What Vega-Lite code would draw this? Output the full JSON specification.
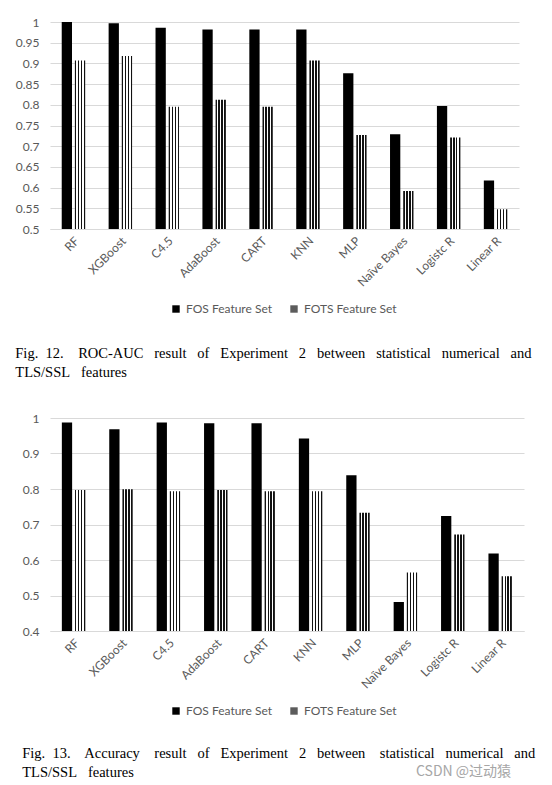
{
  "$schema": "https://vega.github.io/schema/vega-lite/v6.json",
  "background": "white",
  "padding": {"left": 15, "top": 16, "right": 10, "bottom": 5},
  "title": {
    "text": "CSDN @过动猿",
    "orient": "bottom",
    "anchor": "end",
    "font": "Noto Sans CJK SC",
    "fontSize": 14,
    "fontWeight": "normal",
    "color": "#a6a6a6",
    "offset": -15,
    "dx": -25
  },
  "datasets": {
    "auc": [
      {"model": "RF", "set": "FOS Feature Set", "value": 1.0},
      {"model": "RF", "set": "FOTS Feature Set", "value": 0.907},
      {"model": "XGBoost", "set": "FOS Feature Set", "value": 0.997},
      {"model": "XGBoost", "set": "FOTS Feature Set", "value": 0.918},
      {"model": "C4.5", "set": "FOS Feature Set", "value": 0.986},
      {"model": "C4.5", "set": "FOTS Feature Set", "value": 0.795},
      {"model": "AdaBoost", "set": "FOS Feature Set", "value": 0.982},
      {"model": "AdaBoost", "set": "FOTS Feature Set", "value": 0.812},
      {"model": "CART", "set": "FOS Feature Set", "value": 0.982},
      {"model": "CART", "set": "FOTS Feature Set", "value": 0.795},
      {"model": "KNN", "set": "FOS Feature Set", "value": 0.982},
      {"model": "KNN", "set": "FOTS Feature Set", "value": 0.907},
      {"model": "MLP", "set": "FOS Feature Set", "value": 0.876},
      {"model": "MLP", "set": "FOTS Feature Set", "value": 0.727},
      {"model": "Naïve Bayes", "set": "FOS Feature Set", "value": 0.729},
      {"model": "Naïve Bayes", "set": "FOTS Feature Set", "value": 0.592},
      {"model": "Logistc R", "set": "FOS Feature Set", "value": 0.797},
      {"model": "Logistc R", "set": "FOTS Feature Set", "value": 0.721},
      {"model": "Linear R", "set": "FOS Feature Set", "value": 0.617},
      {"model": "Linear R", "set": "FOTS Feature Set", "value": 0.548}
    ],
    "acc": [
      {"model": "RF", "set": "FOS Feature Set", "value": 0.987},
      {"model": "RF", "set": "FOTS Feature Set", "value": 0.797},
      {"model": "XGBoost", "set": "FOS Feature Set", "value": 0.968},
      {"model": "XGBoost", "set": "FOTS Feature Set", "value": 0.799},
      {"model": "C4.5", "set": "FOS Feature Set", "value": 0.987},
      {"model": "C4.5", "set": "FOTS Feature Set", "value": 0.794},
      {"model": "AdaBoost", "set": "FOS Feature Set", "value": 0.985},
      {"model": "AdaBoost", "set": "FOTS Feature Set", "value": 0.797},
      {"model": "CART", "set": "FOS Feature Set", "value": 0.985},
      {"model": "CART", "set": "FOTS Feature Set", "value": 0.794},
      {"model": "KNN", "set": "FOS Feature Set", "value": 0.942},
      {"model": "KNN", "set": "FOTS Feature Set", "value": 0.794},
      {"model": "MLP", "set": "FOS Feature Set", "value": 0.839},
      {"model": "MLP", "set": "FOTS Feature Set", "value": 0.733},
      {"model": "Naïve Bayes", "set": "FOS Feature Set", "value": 0.482},
      {"model": "Naïve Bayes", "set": "FOTS Feature Set", "value": 0.565},
      {"model": "Logistc R", "set": "FOS Feature Set", "value": 0.724},
      {"model": "Logistc R", "set": "FOTS Feature Set", "value": 0.672},
      {"model": "Linear R", "set": "FOS Feature Set", "value": 0.618},
      {"model": "Linear R", "set": "FOTS Feature Set", "value": 0.554}
    ]
  },
  "spacing": 32,
  "vconcat": [
    {
      "data": {"name": "auc"},
      "width": 469,
      "height": 207,
      "title": {
        "text": ["Fig.\u00a0 12.\u00a0\u00a0\u00a0 ROC-AUC\u00a0\u00a0 result\u00a0\u00a0 of\u00a0\u00a0 Experiment\u00a0\u00a0 2\u00a0\u00a0 between\u00a0\u00a0 statistical\u00a0\u00a0 numerical\u00a0\u00a0 and", "TLS/SSL\u00a0\u00a0 features"],
        "orient": "bottom",
        "anchor": "start",
        "offset": 32
      },
      "mark": {"type": "bar", "clip": true},
      "encoding": {
        "x": {
          "field": "model", "type": "nominal", "sort": null,
          "scale": {"paddingInner": 0.5, "paddingOuter": 0.25},
          "axis": {"title": null}
        },
        "xOffset": {"field": "set", "type": "nominal", "sort": null, "scale": {"paddingInner": 0.22}},
        "y": {
          "field": "value", "type": "quantitative",
          "scale": {"domain": [0.5, 1], "zero": false, "nice": false},
          "axis": {"title": null, "values": [0.5, 0.55, 0.6, 0.65, 0.7, 0.75, 0.8, 0.85, 0.9, 0.95, 1], "format": "~g"}
        },
        "color": {
          "condition": {
            "test": "datum.set === 'FOTS Feature Set'",
            "value": {"gradient": "linear", "x1": 0, "y1": 0, "x2": 1, "y2": 0, "stops": [
              {"offset": 0, "color": "#111111"}, {"offset": 0.14, "color": "#111111"},
              {"offset": 0.14, "color": "#ffffff"}, {"offset": 0.28, "color": "#ffffff"},
              {"offset": 0.28, "color": "#111111"}, {"offset": 0.43, "color": "#111111"},
              {"offset": 0.43, "color": "#ffffff"}, {"offset": 0.57, "color": "#ffffff"},
              {"offset": 0.57, "color": "#111111"}, {"offset": 0.72, "color": "#111111"},
              {"offset": 0.72, "color": "#ffffff"}, {"offset": 0.86, "color": "#ffffff"},
              {"offset": 0.86, "color": "#111111"}, {"offset": 1, "color": "#111111"}
            ]}
          },
          "field": "set", "type": "nominal", "sort": null,
          "scale": {"range": ["#000000", "#5c5c5c"]},
          "legend": {
            "title": null, "orient": "none", "legendX": 120, "legendY": 281,
            "encode": {"symbols": {"update": {"fill": [
              {"test": "datum.label === 'FOS Feature Set'", "value": "#000000"},
              {"value": {"gradient": "linear", "x1": 0, "y1": 0, "x2": 1, "y2": 0, "stops": [
                {"offset": 0, "color": "#111111"}, {"offset": 0.25, "color": "#111111"},
                {"offset": 0.25, "color": "#ffffff"}, {"offset": 0.5, "color": "#ffffff"},
                {"offset": 0.5, "color": "#111111"}, {"offset": 0.75, "color": "#111111"},
                {"offset": 0.75, "color": "#ffffff"}, {"offset": 1, "color": "#ffffff"}
              ]}}
            ]}}}
          }
        }
      }
    },
    {
      "data": {"name": "acc"},
      "width": 474,
      "height": 213,
      "title": {
        "text": ["Fig.\u00a0 13.\u00a0\u00a0\u00a0 Accuracy\u00a0\u00a0\u00a0 result\u00a0\u00a0 of\u00a0\u00a0 Experiment\u00a0\u00a0 2\u00a0\u00a0 between\u00a0\u00a0\u00a0 statistical\u00a0\u00a0 numerical\u00a0\u00a0 and", "TLS/SSL\u00a0\u00a0 features"],
        "orient": "bottom",
        "anchor": "start",
        "offset": 30
      },
      "mark": {"type": "bar", "clip": true},
      "encoding": {
        "x": {
          "field": "model", "type": "nominal", "sort": null,
          "scale": {"paddingInner": 0.5, "paddingOuter": 0.25},
          "axis": {"title": null}
        },
        "xOffset": {"field": "set", "type": "nominal", "sort": null, "scale": {"paddingInner": 0.22}},
        "y": {
          "field": "value", "type": "quantitative",
          "scale": {"domain": [0.4, 1], "zero": false, "nice": false},
          "axis": {"title": null, "values": [0.4, 0.5, 0.6, 0.7, 0.8, 0.9, 1], "format": "~g"}
        },
        "color": {
          "condition": {
            "test": "datum.set === 'FOTS Feature Set'",
            "value": {"gradient": "linear", "x1": 0, "y1": 0, "x2": 1, "y2": 0, "stops": [
              {"offset": 0, "color": "#111111"}, {"offset": 0.14, "color": "#111111"},
              {"offset": 0.14, "color": "#ffffff"}, {"offset": 0.28, "color": "#ffffff"},
              {"offset": 0.28, "color": "#111111"}, {"offset": 0.43, "color": "#111111"},
              {"offset": 0.43, "color": "#ffffff"}, {"offset": 0.57, "color": "#ffffff"},
              {"offset": 0.57, "color": "#111111"}, {"offset": 0.72, "color": "#111111"},
              {"offset": 0.72, "color": "#ffffff"}, {"offset": 0.86, "color": "#ffffff"},
              {"offset": 0.86, "color": "#111111"}, {"offset": 1, "color": "#111111"}
            ]}
          },
          "field": "set", "type": "nominal", "sort": null,
          "scale": {"range": ["#000000", "#5c5c5c"]},
          "legend": {
            "title": null, "orient": "none", "legendX": 120, "legendY": 287,
            "encode": {"symbols": {"update": {"fill": [
              {"test": "datum.label === 'FOS Feature Set'", "value": "#000000"},
              {"value": {"gradient": "linear", "x1": 0, "y1": 0, "x2": 1, "y2": 0, "stops": [
                {"offset": 0, "color": "#111111"}, {"offset": 0.25, "color": "#111111"},
                {"offset": 0.25, "color": "#ffffff"}, {"offset": 0.5, "color": "#ffffff"},
                {"offset": 0.5, "color": "#111111"}, {"offset": 0.75, "color": "#111111"},
                {"offset": 0.75, "color": "#ffffff"}, {"offset": 1, "color": "#ffffff"}
              ]}}
            ]}}}
          }
        }
      }
    }
  ],
  "resolve": {"scale": {"y": "independent", "x": "independent", "color": "independent"}, "legend": {"color": "independent"}},
  "config": {
    "view": {"stroke": null},
    "font": "Lato",
    "axis": {
      "labelFont": "Lato",
      "labelFontSize": 12,
      "labelColor": "#595959",
      "ticks": false,
      "gridColor": "#d9d9d9",
      "domainColor": "#d9d9d9"
    },
    "axisX": {"labelAngle": -45, "grid": false, "labelPadding": 6},
    "axisY": {"domain": false, "grid": true, "labelPadding": 11},
    "legend": {
      "direction": "horizontal",
      "symbolType": "square",
      "symbolSize": 55,
      "symbolStrokeWidth": 0,
      "labelFont": "Lato",
      "labelFontSize": 12,
      "labelColor": "#595959",
      "labelOffset": 4,
      "columnPadding": 16
    },
    "title": {
      "font": "Liberation Serif",
      "fontSize": 14.5,
      "fontWeight": "normal",
      "color": "#000000",
      "lineHeight": 19
    }
  }
}
